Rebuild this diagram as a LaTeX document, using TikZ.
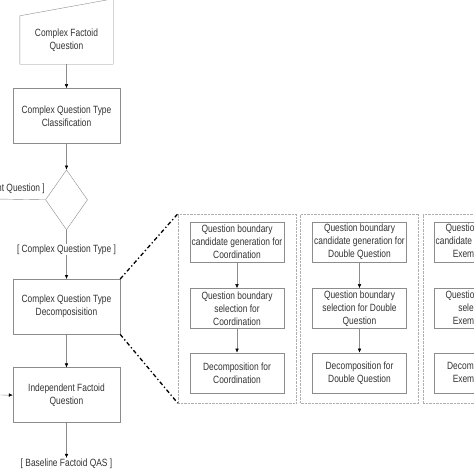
\documentclass[tikz,border=0pt]{standalone}
\usepackage{fontspec}
\newfontfamily\diagfont{Liberation Sans}[FakeStretch=0.8]
\usepackage{xcolor}
\definecolor{boxgray}{rgb}{0.55,0.55,0.55}
\definecolor{txtgray}{rgb}{0.2,0.2,0.2}
\usetikzlibrary{positioning, arrows.meta, shapes.geometric, calc}

\begin{document}
\begin{tikzpicture}
[x=1pt, y=-1pt,
 >={Latex[length=4pt,width=3.5pt,black]},
 every node/.style={font=\diagfont\fontsize{10.5}{13}\selectfont, text=txtgray, align=center},
 proc/.style={draw=boxgray, minimum width=107pt, minimum height=55pt, inner sep=1pt},
 subproc/.style={draw=boxgray, minimum width=94pt, minimum height=40pt, inner sep=1pt},
 choice/.style={diamond, draw=boxgray, minimum width=42pt, minimum height=60pt, inner sep=0pt},
 panel/.style={draw=boxgray!70, densely dotted, minimum width=118pt, minimum height=189pt, inner sep=0pt},
 guard/.style={inner sep=1pt},
 flow/.style={draw=boxgray, ->},
 zoomline/.style={black, line width=1.3pt, dash pattern=on 4pt off 2.5pt on 1.3pt off 2.5pt},
]
\clip (0,0) rectangle (474,474);

% main column
\node[minimum width=93pt, minimum height=48pt, inner sep=1pt] (fq) at (66.5,40) {Complex Factoid\\Question};
\draw[boxgray] (fq.south west) -- (fq.north west) -- ($(fq.north east)+(0,-17)$) -- (fq.south east) -- cycle;
\node[proc, below=24pt of fq] (cqtc) {Complex Question Type\\Classification};
\node[choice, below=26pt of cqtc] (dec) {};
\node[proc, below=49pt of dec] (cqtd) {Complex Question Type\\Decomposisition};
\node[proc, below=33pt of cqtd] (ifq) {Independent Factoid\\Question};
\node[guard] (qas) at (66.5,464) {[ Baseline Factoid QAS ]};
\node[guard, anchor=east] (indq) at (46,189) {[ Independent Question ]};
\coordinate (lout) at (-5,199);
\coordinate (lin) at (-5,395);

\draw[flow] (fq) -- (cqtc);
\draw[flow] (cqtc) -- (dec);
\draw[flow] (dec) -- node[guard, fill=white, pos=0.4]{[ Complex Question Type ]} (cqtd);
\draw[flow] (cqtd) -- (ifq);
\draw[flow] (ifq) -- (qas);
\draw[draw=boxgray] (dec.west) -- (lout);
\draw[flow] (lin) -- (ifq.west);

% decomposition panels
\node[panel] (pcoord) at (237,308.5) {};
\node[panel] (pdouble) at (359.5,308.5) {};
\node[panel] (pexempl) at (482,308.5) {};

\node[subproc] (cgen) at (237,242) {Question boundary\\candidate generation for\\Coordination};
\node[subproc, below=26pt of cgen] (csel) {Question boundary\\selection for\\Coordination};
\node[subproc, below=24pt of csel] (cdec) {Decomposition for\\Coordination};

\node[subproc] (dgen) at (359.5,242) {Question boundary\\candidate generation for\\Double Question};
\node[subproc, below=26pt of dgen] (dsel) {Question boundary\\selection for Double\\Question};
\node[subproc, below=24pt of dsel] (ddec) {Decomposition for\\Double Question};

\node[subproc] (egen) at (481,242) {Question boundary\\candidate generation for\\Exemplification};
\node[subproc, below=26pt of egen] (esel) {Question boundary\\selection for\\Exemplification};
\node[subproc, below=24pt of esel] (edec) {Decomposition for\\Exemplification};

\draw[flow] (cgen) -- (csel);
\draw[flow] (csel) -- (cdec);
\draw[flow] (dgen) -- (dsel);
\draw[flow] (dsel) -- (ddec);
\draw[flow] (egen) -- (esel);
\draw[flow] (esel) -- (edec);

\draw[zoomline] (cqtd.north east) -- (pcoord.north west);
\draw[zoomline] (cqtd.south east) -- (pcoord.south west);
\end{tikzpicture}
\end{document}
